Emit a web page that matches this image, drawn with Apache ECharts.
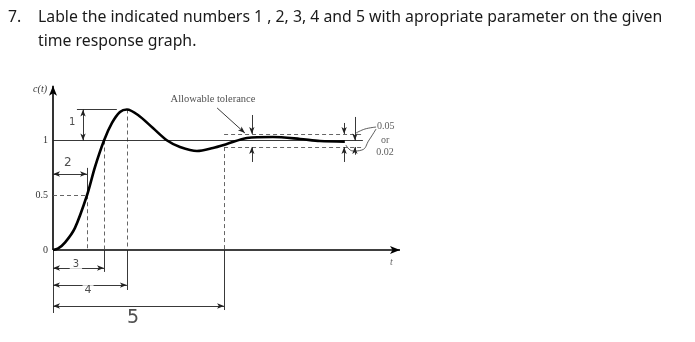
<!DOCTYPE html>
<html>
<head>
<meta charset="utf-8">
<script src="https://cdn.jsdelivr.net/npm/echarts@6/dist/echarts.min.js"></script>
<style>
html,body{margin:0;padding:0;background:#fff;}
#chart{width:695px;height:342px;}
</style>
</head>
<body>
<div id="chart"></div>
<script>
// ---- data ----
const tData = [0, 0.14, 0.35, 0.63, 0.98, 1.21, 1.47, 1.70, 1.93, 2.13, 2.45, 2.88, 3.29, 3.66, 4.15, 4.61, 5.01, 5.59, 6.34, 7.12, 7.69, 8.41];
const cData = [0, 0.012, 0.07, 0.2, 0.5, 0.758, 1.0, 1.16, 1.26, 1.283, 1.233, 1.114, 1.0, 0.941, 0.904, 0.932, 0.968, 1.023, 1.032, 1.014, 0.995, 0.99];
const yTickValues = [0, 0.5, 1];
const yTickLabels = ['0', '0.5', '1'];
// characteristic times / levels
const keyTimes = { td: 0.98, tr: 1.47, tp: 2.13, ts: 4.93 };
const keyLevels = { peak: 1.283, final: 1, half: 0.5, tolUp: 1.06, tolLow: 0.94 };
const tolEnd = 8.93;
const handLabels = ['1', '2', '3', '4', '5'];
const tolLabels = ['0.05', 'or', '0.02'];

const serif = 'Liberation Serif';
const hand = 'DejaVu Sans';

function seg(x1, y1, x2, y2, s1, s2, extra) {
  const a = Object.assign({ coord: [x1, y1], symbol: s1 || 'none' }, extra || {});
  const b = { coord: [x2, y2], symbol: s2 || 'none' };
  return [a, b];
}

const K = keyTimes, L = keyLevels;

// thin solid lines and arrows
const solidLines = [
  seg(0, L.final, tolEnd, L.final),                          // final value line
  seg(0.69, L.peak, 1.84, L.peak),                           // peak level
  seg(0.865, L.peak, 0.865, L.final, 'arrow', 'arrow'),      // 1
  seg(K.td, 0.75, K.td, L.half),                             // td extender
  seg(0, 0.694, K.td, 0.694, 'arrow', 'arrow'),              // 2
  seg(0, 0, 0, -0.575),                                      // left boundary
  seg(K.tr, 0, K.tr, -0.2),
  seg(K.tp, 0, K.tp, -0.365),
  seg(K.ts, 0, K.ts, -0.548),
  seg(0, -0.164, K.tr, -0.164, 'arrow', 'arrow'),            // 3
  seg(0, -0.32, K.tp, -0.32, 'arrow', 'arrow'),              // 4
  seg(0, -0.511, K.ts, -0.511, 'arrow', 'arrow'),            // 5
  seg(5.73, 1.233, 5.73, L.tolUp, 'none', 'arrow'),
  seg(5.73, 0.804, 5.73, L.tolLow, 'none', 'arrow'),
  seg(8.39, 1.16, 8.39, L.tolUp, 'none', 'arrow'),
  seg(8.39, 0.804, 8.39, L.tolLow, 'none', 'arrow'),
  seg(8.70, 1.215, 8.70, L.final, 'none', 'arrow'),
  seg(8.70, 0.87, 8.70, L.tolLow, 'none', 'arrow'),
  seg(4.73, 1.297, 5.53, 1.068, 'none', 'arrow')              // allowable tolerance pointer
];

const dashedLines = [
  seg(0, L.half, K.td, L.half),
  seg(K.td, L.half, K.td, 0),
  seg(K.tr, L.final, K.tr, 0),
  seg(K.tp, L.peak, K.tp, 0),
  seg(K.ts, L.tolLow, K.ts, 0),
  seg(K.ts, L.tolUp, tolEnd, L.tolUp),
  seg(K.ts, L.tolLow, tolEnd, L.tolLow)
];

const axisLines = [
  seg(0, 0, 10, 0, 'none', 'arrow'),
  seg(0, 0, 0, 1.5, 'none', 'arrow')
];

const leader1 = [[9.31, 1.123], [8.99, 1.105], [8.73, 1.068]];
const leader2 = [[8.44, 0.959], [8.65, 0.904], [8.90, 0.913], [9.11, 1.005], [9.31, 1.105]];

function txt(x, y, s, style) {
  return { value: [x, y], label: Object.assign({ show: true, formatter: s, position: 'inside' }, style) };
}

const texts = [
  txt(4.61, 1.379, 'Allowable tolerance', { fontFamily: serif, fontSize: 10.5, color: '#222' }),
  txt(9.59, 1.13, tolLabels[0], { fontFamily: serif, fontSize: 10, color: '#333' }),
  txt(9.57, 1.005, tolLabels[1], { fontFamily: serif, fontSize: 10, color: '#333' }),
  txt(9.57, 0.89, tolLabels[2], { fontFamily: serif, fontSize: 10, color: '#333' }),
  txt(9.75, -0.11, 't', { fontFamily: serif, fontSize: 10, fontStyle: 'italic', color: '#444' }),
  txt(0.55, 1.169, handLabels[0], { fontFamily: hand, fontSize: 10, color: '#222' }),
  txt(0.43, 0.80, handLabels[1], { fontFamily: hand, fontSize: 12, color: '#222' }),
  txt(0.66, -0.13, handLabels[2], { fontFamily: hand, fontSize: 10, color: '#222', backgroundColor: '#fff', padding: [0, 3] }),
  txt(1.01, -0.37, handLabels[3], { fontFamily: hand, fontSize: 11, color: '#222', backgroundColor: '#fff', padding: [0, 2] }),
  txt(2.31, -0.625, handLabels[4], { fontFamily: hand, fontSize: 19, color: '#222' })
];

const titleStyle = { fontFamily: 'Noto Sans', fontSize: 15.8, fontWeight: 'normal', color: '#1a1a1a', lineHeight: 24 };

const chart = echarts.init(document.getElementById('chart'));
chart.setOption({
  animation: false,
  backgroundColor: '#fff',
  title: [
    { text: '7.', left: 8, top: 5, padding: 0, textStyle: titleStyle },
    { text: 'Lable the indicated numbers 1 , 2, 3, 4 and 5 with apropriate parameter on the given\ntime response graph.',
      left: 38, top: 5, padding: 0, textStyle: titleStyle }
  ],
  grid: { left: 53, top: 85.75, width: 347, height: 235.45 },
  xAxis: {
    type: 'value', min: 0, max: 10,
    axisLine: { show: false }, axisTick: { show: false }, axisLabel: { show: false }, splitLine: { show: false }
  },
  yAxis: {
    type: 'value', min: -0.65, max: 1.5,
    axisLine: { show: false }, axisTick: { show: false }, splitLine: { show: false },
    axisLabel: {
      customValues: yTickValues,
      formatter: v => yTickLabels[yTickValues.indexOf(v)] ?? '',
      fontFamily: serif, fontSize: 10, color: '#333', margin: 5
    },
    name: 'c(t)', nameLocation: 'end', nameGap: -4,
    nameTextStyle: { fontFamily: serif, fontSize: 10, fontStyle: 'italic', color: '#333', align: 'right', verticalAlign: 'middle', padding: [0, 6, 0, 0] }
  },
  series: [
    {
      type: 'line', name: 'axes', data: [], silent: true,
      markLine: { silent: true, symbolSize: [6, 10], label: { show: false }, lineStyle: { color: '#000', width: 1.6, type: 'solid' }, data: axisLines }
    },
    {
      type: 'line', name: 'dashed', data: [], silent: true,
      markLine: { silent: true, symbolSize: [4, 6], label: { show: false }, lineStyle: { color: '#555', width: 0.9, type: [4, 3] }, data: dashedLines }
    },
    {
      type: 'line', name: 'solid', data: [], silent: true,
      markLine: { silent: true, symbolSize: [4, 7], label: { show: false }, lineStyle: { color: '#222', width: 0.9, type: 'solid' }, data: solidLines }
    },
    {
      type: 'line', name: 'leader1', data: leader1, smooth: 0.4, showSymbol: false, silent: true,
      lineStyle: { color: '#333', width: 0.8 }
    },
    {
      type: 'line', name: 'leader2', data: leader2, smooth: 0.5, showSymbol: false, silent: true,
      lineStyle: { color: '#333', width: 0.8 }
    },
    {
      type: 'line', name: 'c(t)', data: tData.map((t, i) => [t, cData[i]]), smooth: 0.3, showSymbol: false, silent: true,
      lineStyle: { color: '#000', width: 2.6 }, z: 5
    },
    {
      type: 'scatter', name: 'texts', data: texts, symbolSize: 0, silent: true, clip: false, z: 6
    }
  ]
});
</script>
</body>
</html>
